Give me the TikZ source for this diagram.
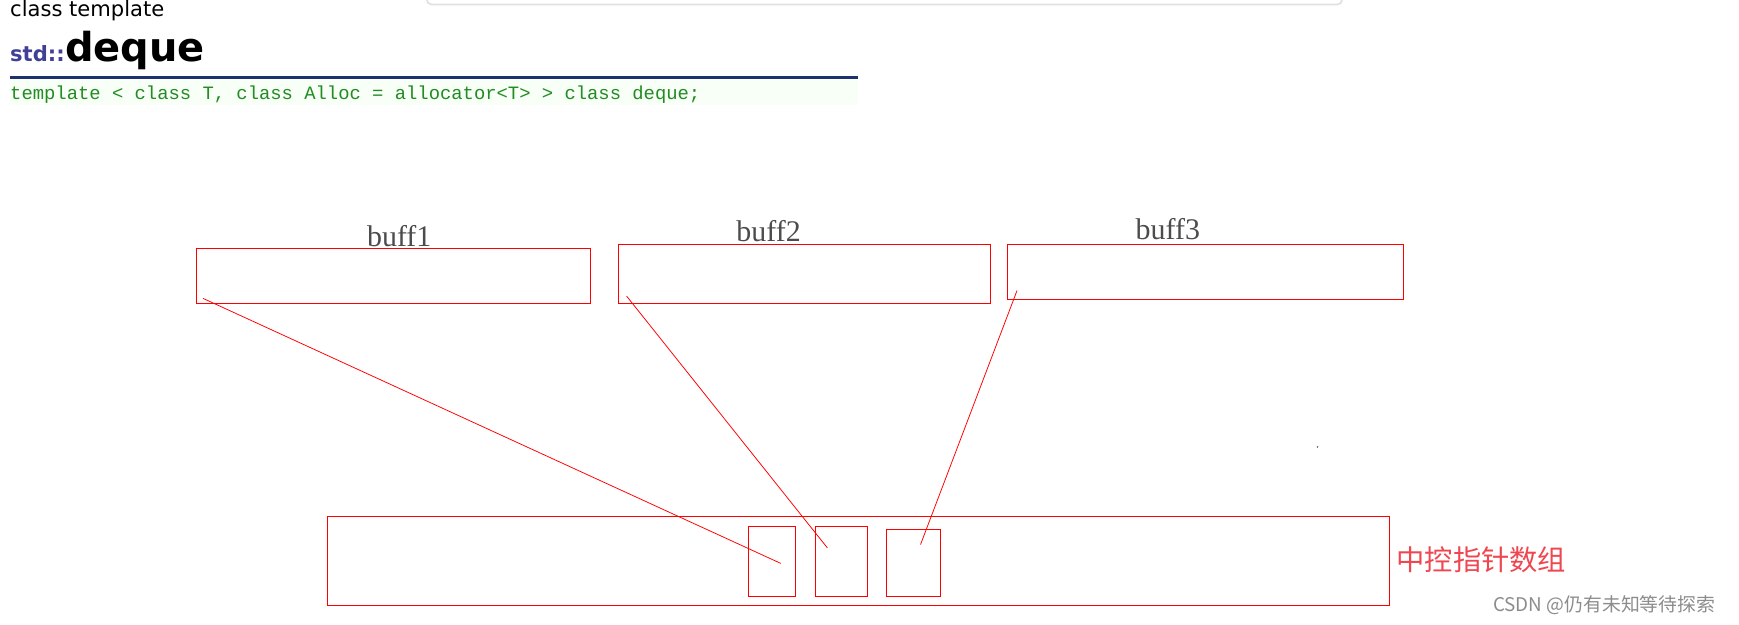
\documentclass[tikz,border=0pt]{standalone}
\usepackage{fontspec}
\setmainfont{Liberation Serif}
\setsansfont{DejaVu Sans}
\setmonofont{Liberation Mono}
\newfontfamily\cjk{Noto Sans CJK SC}
\definecolor{stdc}{RGB}{64,64,150}
\definecolor{linec}{RGB}{30,50,110}
\definecolor{sigc}{RGB}{34,139,34}
\definecolor{zkc}{RGB}{240,70,80}
\begin{document}
\begin{tikzpicture}[x=1pt,y=-1pt,
  rbox/.style={draw=red,line width=0.8pt},
  rline/.style={draw=red,line width=0.7pt},
  lbl/.style={text=black!70,font=\fontsize{27}{27}\selectfont,anchor=base}]
\useasboundingbox (0,0) rectangle (1568,563);
\fill[white] (0,0) rectangle (1568,563);
\draw[black!12,line width=1.5pt,rounded corners=4pt] (385,-5) -- (385,4) -- (1210,4) -- (1210,-5);
\node[anchor=base west,inner sep=0,font=\sffamily\fontsize{19}{19}\selectfont] (ct) at (9,15) {class template};
\node[anchor=base west,inner sep=0,font=\sffamily\bfseries\fontsize{19}{19}\selectfont,text=stdc] (std) at (9,55) {std::};
\node[anchor=base west,inner sep=0,font=\sffamily\bfseries\fontsize{36}{36}\selectfont] (dq) at (std.base east) {deque};
\fill[green!3] (9,72) rectangle (774,95);
\draw[linec,line width=2.5pt] (9,70) -- (774,70);
\node[anchor=base west,inner sep=0,font=\ttfamily\fontsize{17}{17}\selectfont,text=sigc] (sig) at (9,90) {template < class T, class Alloc = allocator<T> > class deque;};
\draw[rbox] (177,224) rectangle (532,274);
\draw[rbox] (558,220) rectangle (893,274);
\draw[rbox] (908,220) rectangle (1265,270);
\node[lbl] (l1) at (360,222) {buff1};
\node[lbl] (l2) at (693,218) {buff2};
\node[lbl] (l3) at (1053,216) {buff3};
\draw[rbox] (295,466) rectangle (1253,546);
\draw[rbox] (675,475) rectangle (717,538);
\draw[rbox] (735,475) rectangle (782,538);
\draw[rbox] (799,477) rectangle (848,538);
\coordinate (a1) at (183,269); \coordinate (b1) at (704,508);
\coordinate (a2) at (565,267); \coordinate (b2) at (746,494);
\coordinate (a3) at (917,262); \coordinate (b3) at (830,491);
\draw[rline] (a1) -- (b1);
\draw[rline] (a2) -- (b2);
\draw[rline] (a3) -- (b3);
\fill[black!60] (1188,403) circle (0.8);
\node[anchor=west,inner sep=0,text=zkc,font=\cjk\fontsize{25.5}{25.5}\selectfont] (zk) at (1259,505) {中控指针数组};
\node[anchor=west,inner sep=0,text=black!45,font=\cjk\fontsize{17}{17}\selectfont] (wm) at (1346,546) {CSDN @仍有未知等待探索};
\end{tikzpicture}
\end{document}
